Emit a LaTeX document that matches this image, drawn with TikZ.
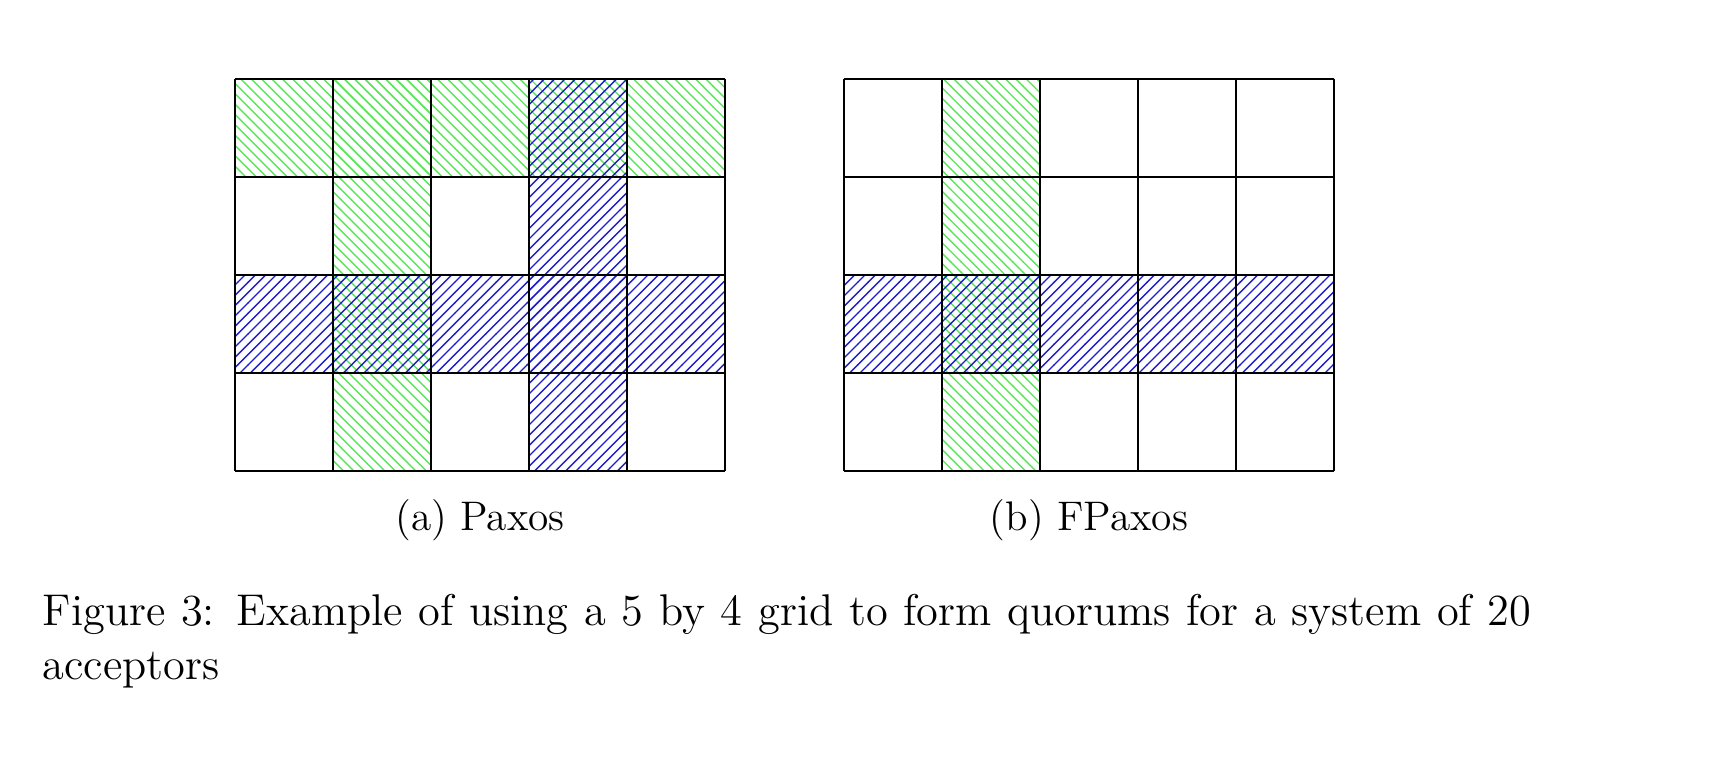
\documentclass[tikz,border=0pt]{standalone}
\usetikzlibrary{patterns}
\definecolor{hgreen}{RGB}{90,230,90}
\definecolor{hblue}{RGB}{30,30,200}
\begin{document}
\begin{tikzpicture}[x=1cm,y=1cm,
  gq/.style={pattern=north west lines,pattern color=hgreen},
  bq/.style={pattern=north east lines,pattern color=hblue},
  lbl/.style={font=\large,inner sep=0pt}]
\useasboundingbox (0,0) rectangle (17.592,-7.837);
% Paxos
\begin{scope}[shift={(2.398,-0.806)}]
  \fill[gq] (0,0) rectangle (5,-1);
  \fill[gq] (1,0) rectangle (2,-4);
  \fill[bq] (0,-2) rectangle (5,-3);
  \fill[bq] (3,0) rectangle (4,-4);
  \draw[thick] (0,0) grid (5,-4);
  \node[lbl] (la) at (2.5,-4.5) {(a) Paxos};
\end{scope}
% FPaxos
\begin{scope}[shift={(8.612,-0.806)}]
  \fill[gq] (1,0) rectangle (2,-4);
  \fill[bq] (0,-2) rectangle (5,-3);
  \draw[thick] (0,0) grid (5,-4);
  \node[lbl] (lb) at (2.5,-4.5) {(b) FPaxos};
\end{scope}
\node[inner sep=0pt,font=\fontsize{12.9}{15.5}\selectfont,anchor=north west,text width=15.19cm,align=justify] (cap) at (0.43,-6.06)
  {Figure 3: Example of using a 5 by 4 grid to form quorums for a system of 20 acceptors};
\end{tikzpicture}
\end{document}
